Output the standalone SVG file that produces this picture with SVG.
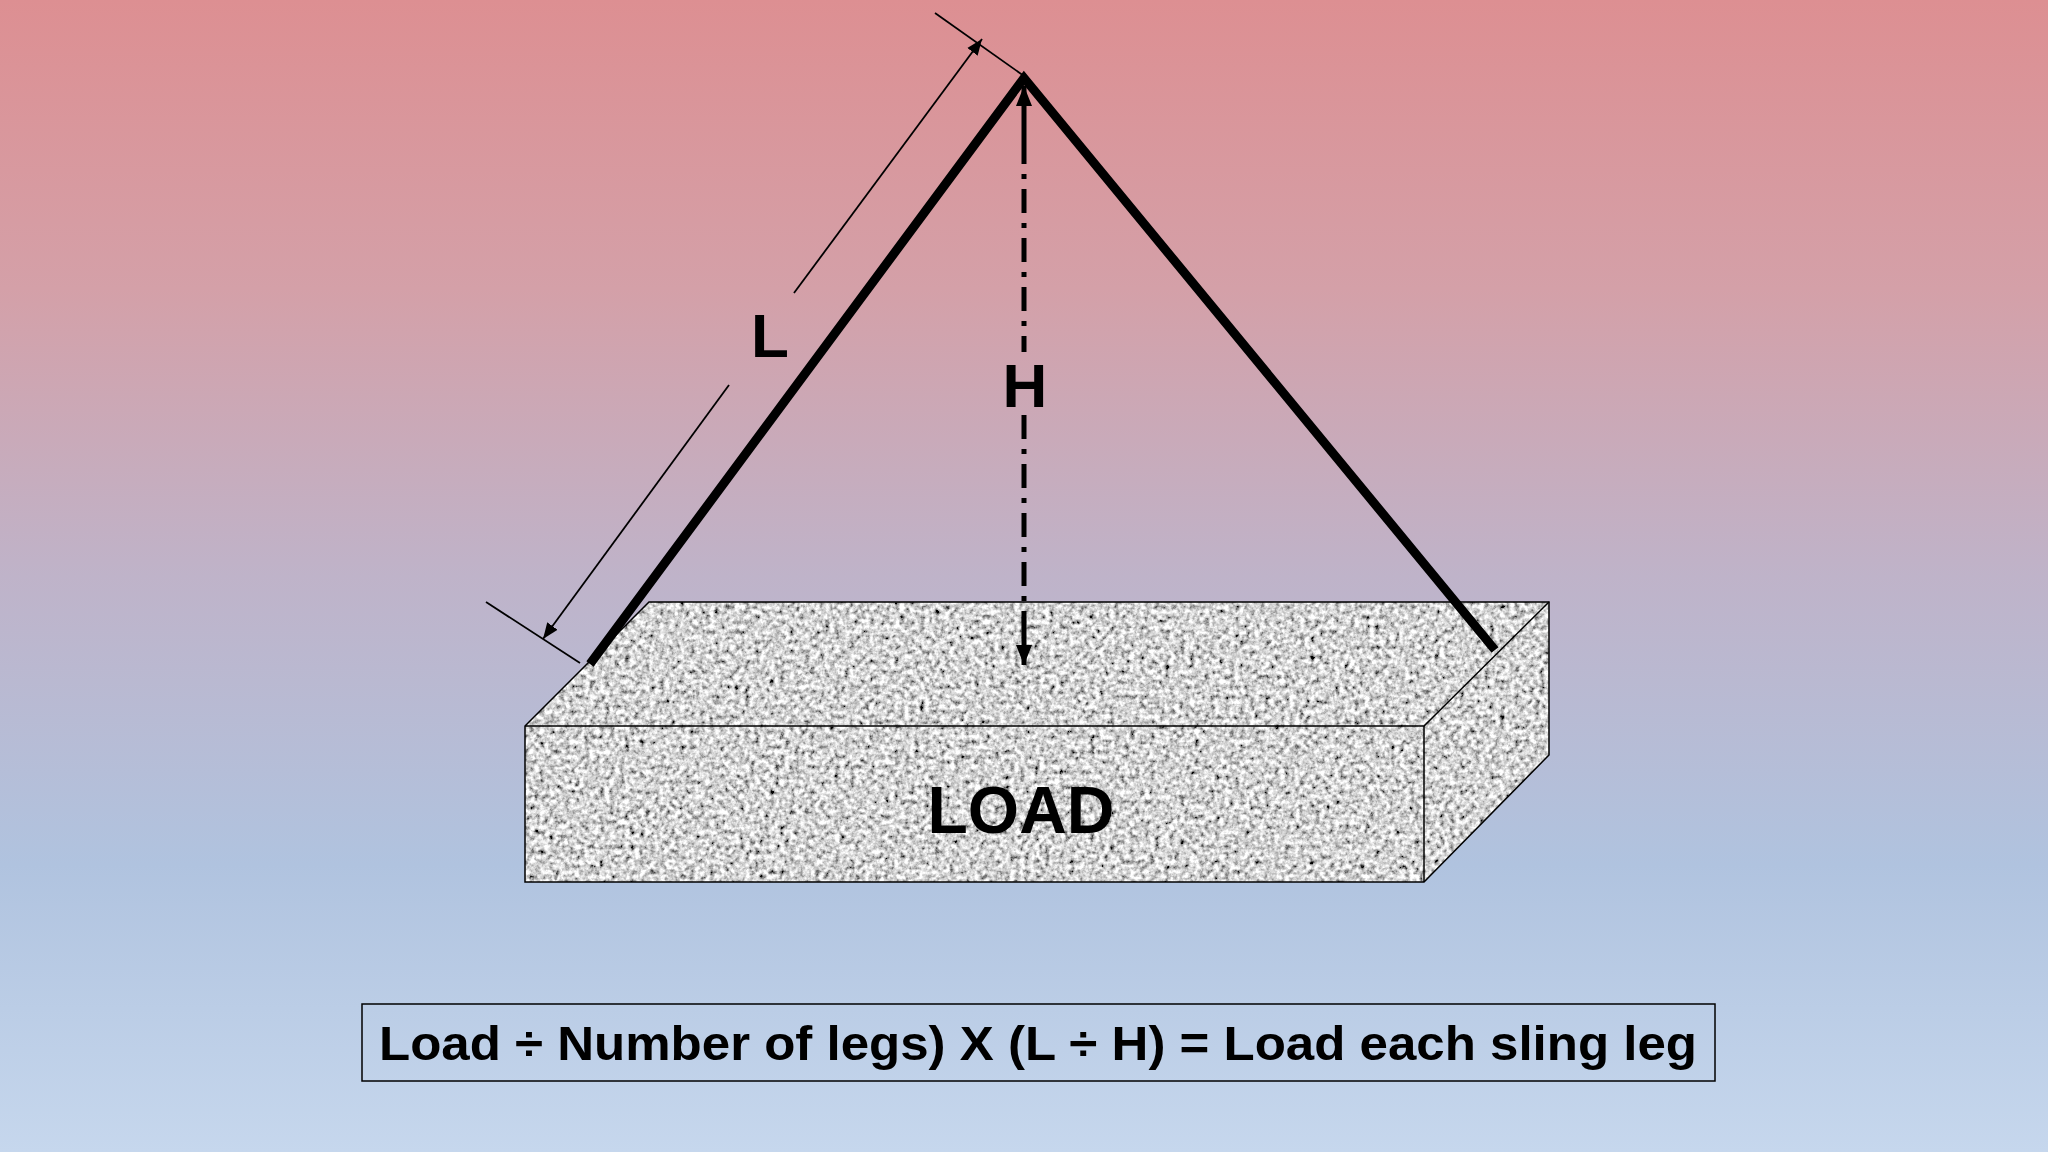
<svg xmlns="http://www.w3.org/2000/svg" width="2048" height="1152" viewBox="0 0 2048 1152">
<defs>
<linearGradient id="bg" x1="0" y1="0" x2="0" y2="1">
<stop offset="0" stop-color="#dd8f92"/>
<stop offset="0.25" stop-color="#d4a0a8"/>
<stop offset="0.5" stop-color="#bfb3c9"/>
<stop offset="0.75" stop-color="#b0c3df"/>
<stop offset="1" stop-color="#c6d7ed"/>
</linearGradient>
<filter id="granite" x="0" y="0" width="1" height="1">
<feTurbulence type="fractalNoise" baseFrequency="0.2" numOctaves="3" seed="5"/>
<feColorMatrix type="matrix" values="1.25 1.25 0 0 -0.6  1.25 1.25 0 0 -0.6  1.25 1.25 0 0 -0.6  0 0 0 0 1"/>
<feGaussianBlur stdDeviation="0.6"/>
</filter>
<clipPath id="boxclip"><polygon points="525,726 649,602 1549,602 1549,755 1424,882 525,882"/></clipPath>
<marker id="ah" viewBox="0 0 10 10" refX="10" refY="5" markerWidth="16" markerHeight="16" markerUnits="userSpaceOnUse" orient="auto"><path d="M0,1 L10,5 L0,9 Z" fill="#000"/></marker>
<marker id="ahb" viewBox="0 0 10 10" refX="10" refY="5" markerWidth="20" markerHeight="20" markerUnits="userSpaceOnUse" orient="auto"><path d="M0,1 L10,5 L0,9 Z" fill="#000"/></marker>
<style>
.t{font-family:"Liberation Sans",Arial,sans-serif;font-weight:bold;fill:#000;text-anchor:middle}
.thin{stroke:#000;stroke-width:1.8;fill:none}
.edge{stroke:#000;stroke-width:1.5;fill:none}
.dd{stroke:#000;stroke-width:5;stroke-dasharray:24 10 5 10}
</style>
</defs>
<rect width="2048" height="1152" fill="url(#bg)"/>
<g id="load">
<g clip-path="url(#boxclip)"><rect x="525" y="602" width="1024" height="280" fill="#aaa" filter="url(#granite)"/></g>
<polygon class="edge" points="525,726 649,602 1549,602 1549,755 1424,882 525,882"/>
<polyline class="edge" points="525,726 1424,726 1549,602"/>
<line class="edge" x1="1424" y1="726" x2="1424" y2="882"/>
<text class="t" x="1021" y="833" font-size="66">LOAD</text>
</g>
<g id="sling">
<polyline points="590,664 1024,78 1495,650" fill="none" stroke="#000" stroke-width="9" stroke-linejoin="miter"/>
</g>
<g id="connectors">
<line class="thin" x1="935" y1="13" x2="1024" y2="76"/>
<line class="thin" x1="486" y1="602" x2="580" y2="663"/>
<line class="thin" x1="794" y1="293" x2="982" y2="39" marker-end="url(#ah)"/>
<line class="thin" x1="729" y1="385" x2="543" y2="639" marker-end="url(#ah)"/>
<line class="dd" x1="1024" y1="140" x2="1024" y2="352"/>
<line class="dd" x1="1024" y1="415" x2="1024" y2="620"/>
<line x1="1024" y1="140" x2="1024" y2="86" stroke="#000" stroke-width="5" marker-end="url(#ahb)"/>
<line x1="1024" y1="620" x2="1024" y2="665" stroke="#000" stroke-width="5" marker-end="url(#ahb)"/>
</g>
<g id="labels">
<text class="t" x="770" y="357" font-size="62">L</text>
<text class="t" x="1025" y="407" font-size="62">H</text>
</g>
<g id="formula">
<rect x="362" y="1004" width="1353" height="77" fill="none" stroke="#000" stroke-width="1.5"/>
<text class="t" x="1038" y="1060" font-size="48" textLength="1318" lengthAdjust="spacingAndGlyphs">Load ÷ Number of legs) X (L ÷ H) = Load each sling leg</text>
</g>
</svg>
